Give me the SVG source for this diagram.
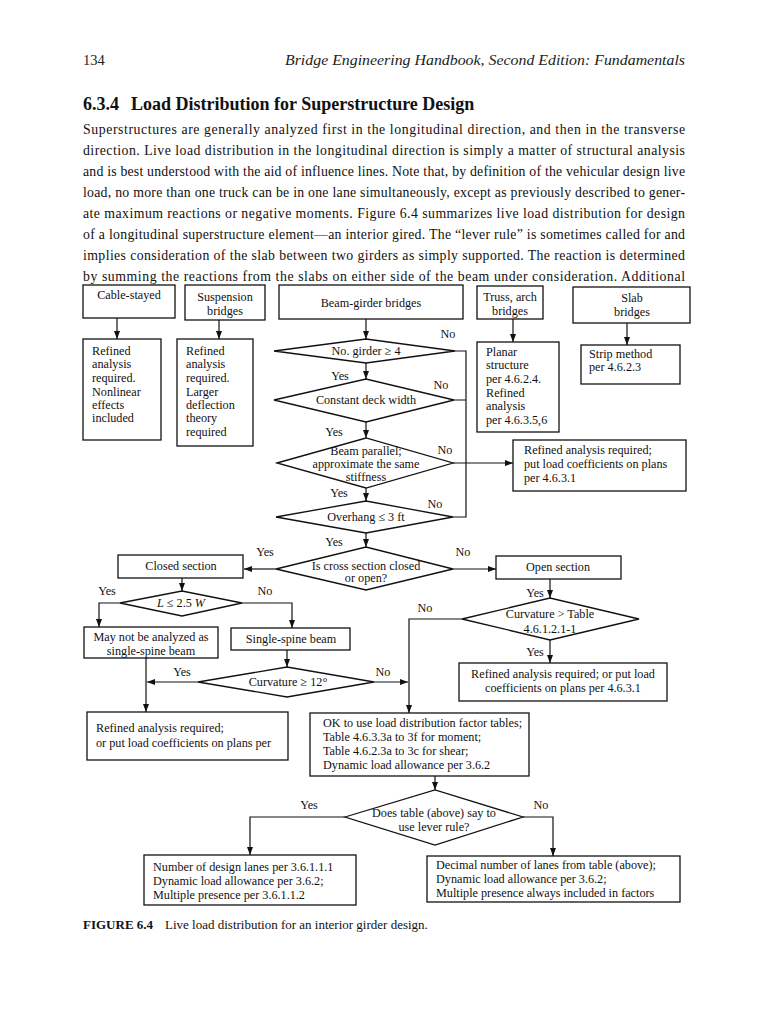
<svg xmlns="http://www.w3.org/2000/svg" width="768" height="1024" viewBox="0 0 768 1024">
<style>
.bg{fill:#fff}
.box{fill:#fff;stroke:#111;stroke-width:1.3}
.dia{fill:#fff;stroke:#111;stroke-width:1.3}
.t{font-family:"Liberation Serif","Times New Roman",serif;font-size:12.2px;fill:#111}
.c{text-anchor:middle}
.ln{fill:none;stroke:#111;stroke-width:1.2}
.arr{marker-end:url(#ah)}
.p{font-family:"Liberation Serif","Times New Roman",serif;font-size:13.8px;fill:#111}
.hd{font-family:"Liberation Serif","Times New Roman",serif;font-size:14.5px;fill:#222}
.h2{font-family:"Liberation Serif","Times New Roman",serif;font-size:18px;font-weight:bold;fill:#111}
.cap{font-family:"Liberation Serif","Times New Roman",serif;font-size:13px;fill:#111}
</style>
<defs>
<marker id="ah" markerUnits="userSpaceOnUse" markerWidth="8" markerHeight="6" refX="8" refY="3" orient="auto">
<path d="M0,0 L8,3 L0,6 z" fill="#111"/>
</marker>
</defs>
<rect class="bg" x="0" y="0" width="768" height="1024"/>

<g id="page-text">
<text class="hd" x="83" y="65">134</text>
<text class="hd" x="285" y="65" textLength="400" lengthAdjust="spacingAndGlyphs" font-style="italic">Bridge Engineering Handbook, Second Edition: Fundamentals</text>
<text class="h2" x="83" y="110">6.3.4<tspan x="131">Load Distribution for Superstructure Design</tspan></text>
<text class="p" x="83" y="134" textLength="602" lengthAdjust="spacing">Superstructures are generally analyzed first in the longitudinal direction, and then in the transverse</text>
<text class="p" x="83" y="155" textLength="602" lengthAdjust="spacing">direction. Live load distribution in the longitudinal direction is simply a matter of structural analysis</text>
<text class="p" x="83" y="176" textLength="602" lengthAdjust="spacing">and is best understood with the aid of influence lines. Note that, by definition of the vehicular design live</text>
<text class="p" x="83" y="197" textLength="602" lengthAdjust="spacing">load, no more than one truck can be in one lane simultaneously, except as previously described to gener-</text>
<text class="p" x="83" y="218" textLength="602" lengthAdjust="spacing">ate maximum reactions or negative moments. Figure 6.4 summarizes live load distribution for design</text>
<text class="p" x="83" y="239" textLength="602" lengthAdjust="spacing">of a longitudinal superstructure element—an interior gired. The “lever rule” is sometimes called for and</text>
<text class="p" x="83" y="260" textLength="602" lengthAdjust="spacing">implies consideration of the slab between two girders as simply supported. The reaction is determined</text>
<text class="p" x="83" y="281" textLength="602" lengthAdjust="spacing">by summing the reactions from the slabs on either side of the beam under consideration. Additional</text>
</g>

<g id="connectors">
<line class="ln arr" x1="117" y1="318" x2="117" y2="339"/>
<line class="ln arr" x1="219" y1="320" x2="219" y2="339"/>
<line class="ln arr" x1="513" y1="319" x2="513" y2="342"/>
<line class="ln arr" x1="627" y1="323" x2="627" y2="345"/>
<line class="ln arr" x1="366" y1="319" x2="366" y2="339"/>
<line class="ln arr" x1="366" y1="363" x2="366" y2="379"/>
<line class="ln arr" x1="366" y1="422" x2="366" y2="438"/>
<line class="ln arr" x1="366" y1="488" x2="366" y2="501"/>
<line class="ln arr" x1="366" y1="533" x2="366" y2="547"/>
<path class="ln" d="M455,351 H466 V517 H453 M454,400 H466"/>
<line class="ln arr" x1="453" y1="463" x2="513" y2="463"/>
<line class="ln arr" x1="276" y1="569" x2="244" y2="569"/>
<line class="ln arr" x1="453" y1="569" x2="496" y2="569"/>
<line class="ln arr" x1="182" y1="578" x2="182" y2="591"/>
<path class="ln arr" d="M120,603 H99 V627"/>
<path class="ln arr" d="M242,603 H292 V628"/>
<line class="ln arr" x1="287" y1="650" x2="287" y2="667"/>
<line class="ln arr" x1="198" y1="682" x2="147" y2="682"/>
<line class="ln arr" x1="146" y1="658" x2="146" y2="712"/>
<line class="ln arr" x1="374" y1="682" x2="408" y2="682"/>
<path class="ln arr" d="M462,619 H409 V713"/>
<line class="ln arr" x1="550" y1="579" x2="550" y2="598"/>
<line class="ln arr" x1="550" y1="640" x2="550" y2="663"/>
<line class="ln arr" x1="435" y1="776" x2="435" y2="790"/>
<path class="ln arr" d="M345,817 H250 V855"/>
<path class="ln arr" d="M523,817 H553 V856"/>
<g class="t c">
<text x="448" y="338">No</text>
<text x="340" y="380">Yes</text>
<text x="441" y="389">No</text>
<text x="334" y="436">Yes</text>
<text x="445" y="454">No</text>
<text x="339" y="497">Yes</text>
<text x="435" y="508">No</text>
<text x="334" y="546">Yes</text>
<text x="265" y="556">Yes</text>
<text x="463" y="556">No</text>
<text x="107" y="595">Yes</text>
<text x="265" y="595">No</text>
<text x="182" y="676">Yes</text>
<text x="383" y="676">No</text>
<text x="425" y="612">No</text>
<text x="535" y="597">Yes</text>
<text x="535" y="656">Yes</text>
<text x="309" y="809">Yes</text>
<text x="541" y="809">No</text>
</g>
</g>

<g id="n-cable">
<rect class="box" x="83" y="285" width="92" height="33"/>
<text class="t c" x="129" y="299">Cable-stayed</text>
</g>
<g id="n-susp">
<rect class="box" x="185" y="285" width="80" height="35"/>
<text class="t c" x="225" y="301">Suspension</text>
<text class="t c" x="225" y="315">bridges</text>
</g>
<g id="n-beam">
<rect class="box" x="279" y="285" width="184" height="34"/>
<text class="t c" x="371" y="307">Beam-girder bridges</text>
</g>
<g id="n-truss">
<rect class="box" x="477" y="286" width="66" height="33"/>
<text class="t c" x="510" y="301">Truss, arch</text>
<text class="t c" x="510" y="315">bridges</text>
</g>
<g id="n-slab">
<rect class="box" x="573" y="287" width="117" height="36"/>
<text class="t c" x="632" y="302">Slab</text>
<text class="t c" x="632" y="316">bridges</text>
</g>
<g id="n-ref1">
<rect class="box" x="83" y="339" width="78" height="101"/>
<text class="t" x="92" y="355">Refined</text>
<text class="t" x="92" y="368">analysis</text>
<text class="t" x="92" y="382">required.</text>
<text class="t" x="92" y="396">Nonlinear</text>
<text class="t" x="92" y="409">effects</text>
<text class="t" x="92" y="422">included</text>
</g>
<g id="n-ref2">
<rect class="box" x="177" y="339" width="76" height="107"/>
<text class="t" x="186" y="355">Refined</text>
<text class="t" x="186" y="368">analysis</text>
<text class="t" x="186" y="382">required.</text>
<text class="t" x="186" y="396">Larger</text>
<text class="t" x="186" y="409">deflection</text>
<text class="t" x="186" y="422">theory</text>
<text class="t" x="186" y="436">required</text>
</g>
<g id="n-planar">
<rect class="box" x="477" y="342" width="82" height="90"/>
<text class="t" x="486" y="356">Planar</text>
<text class="t" x="486" y="369">structure</text>
<text class="t" x="486" y="383">per 4.6.2.4.</text>
<text class="t" x="486" y="397">Refined</text>
<text class="t" x="486" y="410">analysis</text>
<text class="t" x="486" y="424">per 4.6.3.5,6</text>
</g>
<g id="n-strip">
<rect class="box" x="581" y="345" width="99" height="39"/>
<text class="t" x="589" y="358">Strip method</text>
<text class="t" x="589" y="371">per 4.6.2.3</text>
</g>
<g id="d-girder">
<polygon class="dia" points="274,351 366,339 455,351 366,363"/>
<text class="t c" x="366" y="355">No. girder ≥ 4</text>
</g>
<g id="d-deck">
<polygon class="dia" points="274,400 366,379 454,400 366,422"/>
<text class="t c" x="366" y="404">Constant deck width</text>
</g>
<g id="d-parallel">
<polygon class="dia" points="277,463 366,438 453,463 366,488"/>
<text class="t c" x="366" y="455">Beam parallel;</text>
<text class="t c" x="366" y="468">approximate the same</text>
<text class="t c" x="366" y="481">stiffness</text>
</g>
<g id="d-overhang">
<polygon class="dia" points="276,517 366,501 453,517 366,533"/>
<text class="t c" x="366" y="521">Overhang ≤ 3 ft</text>
</g>
<g id="n-refR">
<rect class="box" x="513" y="440" width="173" height="51"/>
<text class="t" x="524" y="454">Refined analysis required;</text>
<text class="t" x="524" y="468">put load coefficients on plans</text>
<text class="t" x="524" y="482">per 4.6.3.1</text>
</g>
<g id="d-cross">
<polygon class="dia" points="276,569 366,547 453,569 366,590"/>
<text class="t c" x="366" y="570">Is cross section closed</text>
<text class="t c" x="366" y="582">or open?</text>
</g>
<g id="n-closed">
<rect class="box" x="118" y="555" width="125" height="23"/>
<text class="t c" x="181" y="570">Closed section</text>
</g>
<g id="n-open">
<rect class="box" x="496" y="556" width="125" height="23"/>
<text class="t c" x="558" y="571">Open section</text>
</g>
<g id="d-lw">
<polygon class="dia" points="120,603 182,591 242,603 182,616"/>
<text class="t c" x="181" y="607"><tspan font-style="italic">L</tspan> ≤ 2.5 <tspan font-style="italic">W</tspan></text>
</g>
<g id="n-maynot">
<rect class="box" x="84" y="627" width="134" height="31"/>
<text class="t c" x="151" y="641">May not be analyzed as</text>
<text class="t c" x="151" y="655">single-spine beam</text>
</g>
<g id="n-single">
<rect class="box" x="231" y="628" width="119" height="22"/>
<text class="t c" x="291" y="643">Single-spine beam</text>
</g>
<g id="d-curv12">
<polygon class="dia" points="198,682 287,667 374,682 287,697"/>
<text class="t c" x="288" y="686">Curvature ≥ 12°</text>
</g>
<g id="d-curvtable">
<polygon class="dia" points="462,619 550,598 639,619 550,640"/>
<text class="t c" x="550" y="618">Curvature &gt; Table</text>
<text class="t c" x="550" y="633">4.6.1.2.1-1</text>
</g>
<g id="n-refR2">
<rect class="box" x="459" y="663" width="208" height="38"/>
<text class="t c" x="563" y="678">Refined analysis required; or put load</text>
<text class="t c" x="563" y="692">coefficients on plans per 4.6.3.1</text>
</g>
<g id="n-refL">
<rect class="box" x="87" y="712" width="201" height="48"/>
<text class="t" x="96" y="732">Refined analysis required;</text>
<text class="t" x="96" y="747">or put load coefficients on plans per</text>
</g>
<g id="n-ok">
<rect class="box" x="310" y="713" width="219" height="63"/>
<text class="t" x="323" y="727">OK to use load distribution factor tables;</text>
<text class="t" x="323" y="741">Table 4.6.3.3a to 3f for moment;</text>
<text class="t" x="323" y="755">Table 4.6.2.3a to 3c for shear;</text>
<text class="t" x="323" y="769">Dynamic load allowance per 3.6.2</text>
</g>
<g id="d-lever">
<polygon class="dia" points="345,817 435,790 523,817 435,845"/>
<text class="t c" x="434" y="817">Does table (above) say to</text>
<text class="t c" x="434" y="831">use lever rule?</text>
</g>
<g id="n-num">
<rect class="box" x="144" y="855" width="212" height="50"/>
<text class="t" x="153" y="871">Number of design lanes per 3.6.1.1.1</text>
<text class="t" x="153" y="885">Dynamic load allowance per 3.6.2;</text>
<text class="t" x="153" y="899">Multiple presence per 3.6.1.1.2</text>
</g>
<g id="n-dec">
<rect class="box" x="427" y="856" width="253" height="46"/>
<text class="t" x="436" y="869">Decimal number of lanes from table (above);</text>
<text class="t" x="436" y="883">Dynamic load allowance per 3.6.2;</text>
<text class="t" x="436" y="897">Multiple presence always included in factors</text>
</g>
<g id="caption">
<text class="cap" x="83" y="929" font-weight="bold" font-size="12.5px">FIGURE 6.4</text>
<text class="cap" x="165" y="929">Live load distribution for an interior girder design.</text>
</g>
</svg>
